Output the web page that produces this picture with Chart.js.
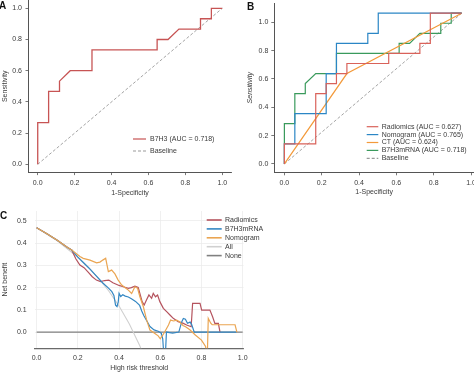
<!DOCTYPE html>
<html>
<head>
<meta charset="utf-8">
<script src="https://cdn.jsdelivr.net/npm/chart.js@4.4.1/dist/chart.umd.min.js"></script>
<style>
  body { margin: 0; background: #fff; }
  #wrap { position: relative; width: 474px; height: 373px; overflow: hidden; background: #fff; }
  #wrap canvas { position: absolute; }
  .tag { position: absolute; font: bold 10px "Liberation Sans", Arial, sans-serif; line-height: 12px; color: #111; }
</style>
</head>
<body>
<div id="wrap">
  <canvas id="rocA" width="237" height="200" style="left:0;top:0"></canvas>
  <canvas id="rocB" width="237" height="200" style="left:237px;top:0"></canvas>
  <canvas id="dcaC" width="290" height="173" style="left:0;top:200px"></canvas>
  <div class="tag" style="left:-1px;top:0">A</div>
  <div class="tag" style="left:247px;top:1px">B</div>
  <div class="tag" style="left:0;top:210px">C</div>
</div>
<script>
// ---- panel A: ROC of B7H3 ----
const b7h3Fpr = [0, 0, 0.059, 0.059, 0.118, 0.118, 0.176, 0.294, 0.294, 0.647, 0.647, 0.706, 0.765, 0.882, 0.882, 0.941, 0.941, 1];
const b7h3Tpr = [0, 0.267, 0.267, 0.467, 0.467, 0.533, 0.6, 0.6, 0.733, 0.733, 0.8, 0.8, 0.867, 0.867, 0.933, 0.933, 1, 1];
const baseA = [0, 1];

// ---- panel B: ROC of four models (values as read on the printed axes) ----
const radFpr = [0, 0, 0.168, 0.168, 0.224, 0.224, 0.279, 0.279, 0.335, 0.335, 0.559, 0.559, 0.726, 0.726, 0.782, 0.782, 0.95];
const radTpr = [0, 0.142, 0.142, 0.497, 0.497, 0.567, 0.567, 0.638, 0.638, 0.709, 0.709, 0.78, 0.78, 0.851, 0.851, 1.064, 1.064];
const nomFpr = [0, 0, 0.056, 0.056, 0.224, 0.224, 0.279, 0.279, 0.447, 0.447, 0.503, 0.503, 0.95];
const nomTpr = [0, 0.142, 0.142, 0.355, 0.355, 0.638, 0.638, 0.851, 0.851, 0.922, 0.922, 1.064, 1.064];
const ctFpr = [0, 0.335, 0.95];
const ctTpr = [0, 0.638, 1.064];
const mrnaFpr = [0, 0, 0.056, 0.056, 0.112, 0.112, 0.168, 0.279, 0.279, 0.615, 0.615, 0.671, 0.726, 0.838, 0.838, 0.894, 0.894, 0.95];
const mrnaTpr = [0, 0.284, 0.284, 0.497, 0.497, 0.567, 0.638, 0.638, 0.78, 0.78, 0.851, 0.851, 0.922, 0.922, 0.993, 0.993, 1.064, 1.064];
const baseBFpr = [0, 0.95];
const baseBTpr = [0, 1.064];

// ---- panel C: decision curves [threshold, net benefit] ----
const dcaRadiomics = [[0, 0.47], [0.05, 0.443], [0.1, 0.413], [0.15, 0.381], [0.17, 0.37], [0.19, 0.33], [0.21, 0.302], [0.23, 0.29], [0.25, 0.27], [0.27, 0.249], [0.29, 0.234], [0.31, 0.227], [0.33, 0.232], [0.35, 0.234], [0.37, 0.222], [0.4, 0.21], [0.42, 0.204], [0.445, 0.197], [0.46, 0.2], [0.477, 0.207], [0.493, 0.201], [0.501, 0.174], [0.512, 0.137], [0.522, 0.122], [0.533, 0.144], [0.545, 0.167], [0.558, 0.152], [0.566, 0.174], [0.577, 0.159], [0.587, 0.167], [0.598, 0.137], [0.615, 0.107], [0.631, 0.092], [0.647, 0.077], [0.663, 0.062], [0.687, 0.047], [0.712, 0.039], [0.728, 0.032], [0.75, 0.024], [0.757, 0.129], [0.793, 0.129], [0.801, 0.099], [0.841, 0.099], [0.854, 0.069], [0.865, 0.039], [0.882, 0.039], [0.89, 0]];
const dcaMrna = [[0, 0.47], [0.05, 0.443], [0.1, 0.413], [0.15, 0.381], [0.17, 0.37], [0.2, 0.337], [0.23, 0.31], [0.26, 0.282], [0.29, 0.252], [0.32, 0.222], [0.35, 0.197], [0.365, 0.182], [0.375, 0.165], [0.383, 0.121], [0.39, 0.115], [0.396, 0.135], [0.4, 0.174], [0.408, 0.16], [0.418, 0.168], [0.43, 0.162], [0.445, 0.158], [0.46, 0.15], [0.48, 0.138], [0.5, 0.12], [0.51, 0.095], [0.52, 0.075], [0.535, 0.05], [0.55, 0.025], [0.57, 0.01], [0.59, 0.004], [0.605, -0.005], [0.612, -0.03], [0.617, -0.1], [0.625, -0.1], [0.63, 0], [0.66, -0.005], [0.69, 0], [0.704, 0.046], [0.712, 0.061], [0.722, 0.058], [0.732, 0.04], [0.745, 0.045], [0.752, 0.035], [0.765, 0], [0.97, 0]];
const dcaNomogram = [[0, 0.47], [0.05, 0.443], [0.1, 0.413], [0.15, 0.381], [0.17, 0.37], [0.19, 0.355], [0.21, 0.34], [0.226, 0.332], [0.259, 0.324], [0.291, 0.312], [0.307, 0.315], [0.323, 0.325], [0.335, 0.332], [0.348, 0.272], [0.364, 0.279], [0.38, 0.262], [0.395, 0.235], [0.413, 0.212], [0.43, 0.2], [0.445, 0.189], [0.461, 0.174], [0.477, 0.204], [0.49, 0.197], [0.501, 0.159], [0.518, 0.114], [0.534, 0.054], [0.55, 0.009], [0.574, -0.006], [0.59, -0.017], [0.6, -0.03], [0.615, -0.01], [0.63, 0.015], [0.64, 0.032], [0.65, 0.054], [0.665, 0.05], [0.68, 0.054], [0.695, 0.045], [0.71, 0.03], [0.723, 0.024], [0.745, 0.009], [0.77, -0.013], [0.8, -0.036], [0.82, -0.065], [0.828, -0.12], [0.833, 0.062], [0.845, 0.04], [0.852, 0.033], [0.963, 0.033], [0.972, 0]];
const dcaAll = [[0, 0.47], [0.1, 0.411], [0.2, 0.337], [0.25, 0.293], [0.3, 0.243], [0.35, 0.185], [0.4, 0.117], [0.45, 0.036], [0.5, -0.06], [0.55, -0.18]];
const dcaNone = [[0, 0], [1, 0]];

// tick labels
const rocTicks = [0, 0.2, 0.4, 0.6, 0.8, 1.0];
const dcaXTicks = [0, 0.2, 0.4, 0.6, 0.8, 1.0];
const dcaYTicks = [0, 0.1, 0.2, 0.3, 0.4, 0.5];

const FONT = '"Liberation Sans", Arial, sans-serif';
const TXT = '#3a3a3a';

const fromXY = (xs, ys) => xs.map((x, i) => ({ x: x, y: ys[i] }));
const fromPairs = pts => pts.map(p => ({ x: p[0], y: p[1] }));

function series(label, data, color, width, extra) {
  return Object.assign({
    label: label, data: data, showLine: true, fill: false,
    borderColor: color, backgroundColor: color, borderWidth: width,
    pointRadius: 0, pointHoverRadius: 0
  }, extra || {});
}

function axis(o) {
  return {
    type: 'linear', position: o.position, min: o.min, max: o.max,
    afterBuildTicks: s => { s.ticks = o.ticks.map(v => ({ value: v })); },
    afterFit: s => {
      if (o.position === 'left') s.width = o.size; else s.height = o.size;
      s.paddingLeft = 0; s.paddingRight = 0; s.paddingTop = 0; s.paddingBottom = 0;
    },
    ticks: {
      padding: o.pad, color: TXT, autoSkip: false, maxRotation: 0,
      font: { family: FONT, size: 7 },
      callback: v => v.toFixed(1)
    },
    grid: o.grid,
    border: o.border,
    title: {
      display: true, text: o.title, color: TXT,
      font: { family: FONT, size: 7, style: o.italic ? 'italic' : 'normal' },
      padding: o.titlePad
    }
  };
}

// legend drawn at fixed spots, like the figure
const placedLegend = {
  id: 'placedLegend',
  afterDraw(chart, args, opts) {
    const ctx = chart.ctx;
    ctx.save();
    ctx.font = '7px ' + FONT;
    ctx.textBaseline = 'middle';
    chart.data.datasets.forEach((ds, i) => {
      const y = opts.y + i * opts.step;
      ctx.strokeStyle = ds.borderColor;
      ctx.lineWidth = opts.lineWidth;
      ctx.setLineDash(ds.borderDash || []);
      ctx.beginPath();
      ctx.moveTo(opts.x, y);
      ctx.lineTo(opts.x + opts.len, y);
      ctx.stroke();
      ctx.setLineDash([]);
      ctx.fillStyle = TXT;
      ctx.fillText(ds.label, opts.x + opts.len + opts.gap, y);
    });
    ctx.restore();
  }
};

const spineGrid = { display: true, drawOnChartArea: false, drawTicks: true, tickLength: 3, color: '#555', lineWidth: 0.8 };
const spine = { display: true, color: '#555', width: 1 };

function baseOptions(pad, scales, legend) {
  return {
    responsive: false, animation: false, events: [],
    layout: { padding: pad },
    plugins: { legend: { display: false }, tooltip: { enabled: false }, placedLegend: legend },
    scales: scales
  };
}

// Panel A
new Chart(document.getElementById('rocA'), {
  type: 'scatter',
  data: {
    datasets: [
      series('B7H3 (AUC = 0.718)', fromXY(b7h3Fpr, b7h3Tpr), '#c75454', 1.3),
      series('Baseline', fromXY(baseA, baseA), '#9a9a9a', 0.9, { borderDash: [3, 2] })
    ]
  },
  options: baseOptions({ left: 0, right: 5.5, top: 0.5, bottom: 0 }, {
    x: axis({ position: 'bottom', min: -0.05, max: 1.05, ticks: rocTicks, size: 27.9, pad: 3.4,
      grid: spineGrid, border: spine, title: '1-Specificity', titlePad: { top: 0, bottom: 2.8 } }),
    y: axis({ position: 'left', min: -0.05, max: 1.05, ticks: rocTicks, size: 28.5, pad: 3.5,
      grid: spineGrid, border: spine, title: 'Sensitivity', titlePad: { top: 0.8, bottom: 0 } })
  }, { x: 133, y: 139, step: 12, len: 13, gap: 4, lineWidth: 1.2 }),
  plugins: [placedLegend]
});

// Panel B
new Chart(document.getElementById('rocB'), {
  type: 'scatter',
  data: {
    datasets: [
      series('Radiomics (AUC = 0.627)', fromXY(radFpr, radTpr), '#d9625a', 1.2),
      series('Nomogram (AUC = 0.765)', fromXY(nomFpr, nomTpr), '#2b86c5', 1.2),
      series('CT (AUC = 0.624)', fromXY(ctFpr, ctTpr), '#f39a3b', 1.2),
      series('B7H3mRNA (AUC = 0.718)', fromXY(mrnaFpr, mrnaTpr), '#3a9a5c', 1.2),
      series('Baseline', fromXY(baseBFpr, baseBTpr), '#9a9a9a', 0.9, { borderDash: [3, 2] })
    ]
  },
  options: baseOptions({ left: 0, right: 0, top: 3, bottom: 0 }, {
    x: axis({ position: 'bottom', min: -0.054, max: 1.016, ticks: rocTicks, size: 27.7, pad: 3.2,
      grid: spineGrid, border: spine, title: '1-Specificity', titlePad: { top: 0, bottom: 3.8 } }),
    y: axis({ position: 'left', min: -0.059, max: 1.136, ticks: rocTicks, size: 37.3, pad: 3,
      grid: spineGrid, border: spine, title: 'Sensitivity', italic: true, titlePad: { top: 8.8, bottom: 0 } })
  }, { x: 129.7, y: 126.7, step: 7.9, len: 11.6, gap: 3.4, lineWidth: 1.2 }),
  plugins: [placedLegend]
});

// Panel C
const dcaGrid = { display: true, drawOnChartArea: true, drawTicks: false, color: '#ececec', lineWidth: 0.8 };
new Chart(document.getElementById('dcaC'), {
  type: 'scatter',
  data: {
    datasets: [
      series('Radiomics', fromPairs(dcaRadiomics), '#b5535e', 1.2, { order: 2 }),
      series('B7H3mRNA', fromPairs(dcaMrna), '#3487c3', 1.2, { order: 1 }),
      series('Nomogram', fromPairs(dcaNomogram), '#eaa552', 1.2, { order: 0 }),
      series('All', fromPairs(dcaAll), '#d0d0d0', 1.1, { order: 3 }),
      series('None', fromPairs(dcaNone), '#808080', 1.2, { order: 4 })
    ]
  },
  options: baseOptions({ left: 0, right: 46.5, top: 11, bottom: 0 }, {
    x: axis({ position: 'bottom', min: -0.008, max: 1.004, ticks: dcaXTicks, size: 24.7, pad: 5.2,
      grid: dcaGrid, border: { display: true, color: '#6a6a6a', width: 1.2 },
      title: 'High risk threshold', titlePad: { top: 0, bottom: 0.5 } }),
    y: axis({ position: 'left', min: -0.073, max: 0.545, ticks: dcaYTicks, size: 35, pad: 8.3,
      grid: dcaGrid, border: { display: false },
      title: 'Net benefit', titlePad: { top: 0.8, bottom: 0 } })
  }, { x: 206.7, y: 20, step: 8.9, len: 15, gap: 3.3, lineWidth: 1.6 }),
  plugins: [placedLegend]
});
</script>
</body>
</html>
